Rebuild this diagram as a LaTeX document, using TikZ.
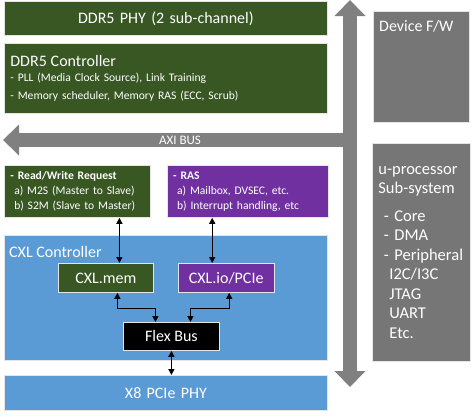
\documentclass[tikz,border=0pt]{standalone}
\usepackage{fontspec}
\setmainfont{Carlito}
\usepackage{tikz}
\usetikzlibrary{arrows.meta,positioning}

\definecolor{ddrgreen}{RGB}{56,87,35}
\definecolor{raspurple}{RGB}{112,48,160}
\definecolor{cxlblue}{RGB}{91,155,213}
\definecolor{fwgray}{RGB}{118,118,118}
\definecolor{busgray}{RGB}{128,128,128}

\begin{document}
\begin{tikzpicture}[x=1pt, y=-1pt,
    box/.style={rectangle, draw=gray!20, line width=0.8pt, text=white, anchor=north west, inner xsep=6pt, inner ysep=0pt, align=left},
    wide/.style={box, minimum width=323pt, text width=311pt},
    big/.style={font=\fontsize{16}{19.5}\selectfont},
    note/.style={font=\fontsize{11.6}{15}\selectfont},
    twoway/.style={{Triangle[length=6pt,width=6pt]}-{Triangle[length=6pt,width=6pt]}, line width=1.3pt, black},
    bus/.style={line width=14pt, draw=busgray}]

    \useasboundingbox (0,0) rectangle (474,416);

    % system bus
    \coordinate (bustop) at (350,0);
    \coordinate (busbot) at (350,387);
    \coordinate (busjoin) at (357,140);
    \coordinate (busend) at (3,140);
    \draw[bus, {Triangle[length=16pt,width=30pt]}-{Triangle[length=16pt,width=30pt]}] (busbot) -- (bustop);
    \draw[bus, -{Triangle[length=16pt,width=30pt]}] (busjoin) -- (busend)
        node[midway, text=white, font=\fontsize{13}{15}\selectfont] (axi) {AXI BUS};

    \node[wide, fill=ddrgreen, minimum height=34pt, align=center, big] (phy) at (4,1) {DDR5 PHY (2 sub-channel)};
    \node[wide, fill=ddrgreen, minimum height=70pt, below=7pt of phy, font=\fontsize{11.6}{15.5}\selectfont] (ddrctl)
        {{\fontsize{16}{19}\selectfont DDR5 Controller}\\- PLL (Media Clock Source), Link Training\\[2pt]- Memory scheduler, Memory RAS (ECC, Scrub)\\[-5pt]};

    \node[box, fill=ddrgreen, minimum width=146pt, text width=134pt, minimum height=52pt, note] (rw) at (4,165)
        {\textbf{- Read/Write Request}\\~a) M2S (Master to Slave)\\~b) S2M (Slave to Master)};
    \node[box, fill=raspurple, minimum width=161pt, text width=149pt, minimum height=52pt, note, right=16pt of rw] (ras)
        {\textbf{- RAS}\\~a) Mailbox, DVSEC, etc.\\~b) Interrupt handling, etc};

    \node[box, fill=cxlblue, minimum width=323pt, minimum height=125pt] (cxl) at (4,235) {};
    \node[big, text=white, anchor=base west, inner sep=0pt] (cxltitle) at ([shift={(5,22)}]cxl.north west) {CXL Controller};
    \node[box, fill=ddrgreen, minimum width=95pt, minimum height=29pt, align=center, big] (mem) at (58,263) {CXL.mem};
    \node[box, fill=raspurple, minimum width=96pt, minimum height=29pt, align=center, big, right=24pt of mem] (io) {CXL.io/PCIe};
    \node[box, fill=black, minimum width=96pt, minimum height=28pt, align=center, big] (flex) at (123,322) {Flex Bus};
    \node[wide, fill=cxlblue, minimum height=35pt, align=center, big] (pciephy) at (4,375) {X8 PCIe PHY};

    \node[box, fill=fwgray, minimum width=96pt, minimum height=111pt] (fw) at (373,11) {};
    \node[big, text=white, anchor=base west, inner sep=0pt] (fwtext) at ([shift={(6,20)}]fw.north west) {Device F/W};
    \node[box, fill=fwgray, minimum width=96pt, text width=86pt, minimum height=218pt, font=\fontsize{16.5}{19.5}\selectfont, below=20pt of fw] (cpu)
        {u-processor\\Sub-system\\[8pt]~- Core\\~- DMA\\~- Peripheral\\~~I2C/I3C\\~~JTAG\\~~UART\\~~Etc.};

    \draw[twoway] ([xshift=13.5pt]mem.north) -- ([xshift=13.5pt]mem.north |- rw.south);
    \draw[twoway] ([xshift=-14pt]io.north) -- ([xshift=-14pt]io.north |- ras.south);
    \draw[twoway] ([xshift=11.5pt]mem.south) -- ++(0,16) -| ([xshift=-16pt]flex.north);
    \draw[twoway] ([xshift=3pt]io.south) -- ++(0,16) -| ([xshift=19pt]flex.north);
    \draw[twoway] (flex.south) -- (flex.south |- pciephy.north);
\end{tikzpicture}
\end{document}
